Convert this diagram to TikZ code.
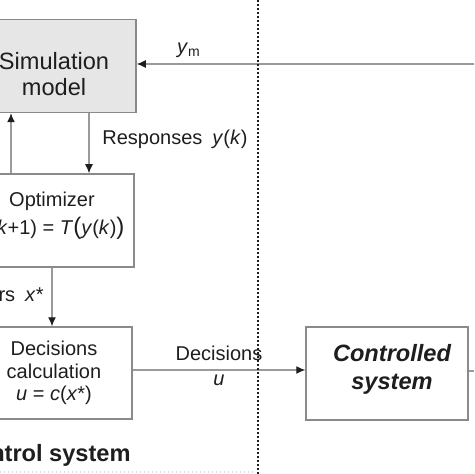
\documentclass[tikz,border=0pt]{standalone}
\usepackage{fontspec}
\setmainfont{Liberation Sans}
\usetikzlibrary{arrows.meta}
\definecolor{linegray}{HTML}{9A9A9A}
\definecolor{boxgray}{HTML}{8A8A8A}
\definecolor{simfill}{HTML}{E6E6E6}
\definecolor{ink}{HTML}{1E1E1E}
\begin{document}
\begin{tikzpicture}[x=0.5pt,y=-0.5pt,
    box/.style={draw=boxgray,line width=0.75pt,minimum height=46.5pt,inner sep=0pt},
    txt/.style={align=center,text=ink,inner sep=0pt},
    arr/.style={draw=linegray,line width=0.6pt,-{Latex[length=4.5pt,width=4pt,color=ink]}},
    lbl/.style={text=ink,inner sep=0pt}]
    \useasboundingbox (0,0) rectangle (474,474);
    \clip (0,0) rectangle (474,474);
    \node[box,fill=simfill,minimum width=82pt,label={[txt,yshift=-4pt,font=\fontsize{11.8}{13.3}\selectfont]center:Simulation\\model}] (sim) at (54,66) {};
    \node[box,minimum width=82pt,label={[txt,yshift=2.5pt,font=\fontsize{10}{14}\selectfont]center:Optimizer\\\textit{x}(\textit{k}+1) = \textit{T}{\large(}\textit{y}(\textit{k}){\large)}}] (opt) at (52,220.5) {};
    \node[box,minimum width=78pt,minimum height=46pt,label={[txt,font=\fontsize{10}{11.3}\selectfont]center:Decisions\\calculation\\\textit{u} = \textit{c}(\textit{x}*)}] (dec) at (54,373) {};
    \node[box,minimum width=81pt,label={[txt,xshift=2.5pt,yshift=2pt,font=\fontsize{11.8}{14}\selectfont\bfseries\itshape]center:Controlled\\system}] (ctl) at (387,373.5) {};
    \coordinate (ymin) at (474,64);
    \coordinate (resp) at (89,0);
    \coordinate (back) at (11,0);
    \coordinate (par) at (52,0);
    \coordinate (dcs) at (0,370);
    \coordinate (out) at (474,371);
    \draw[arr] (ymin) -- (ymin -| sim.east);
    \draw[arr] (resp |- sim.south) -- (resp |- opt.north);
    \draw[arr] (back |- opt.north) -- (back |- sim.south);
    \draw[arr] (par |- opt.south) -- (par |- dec.north);
    \draw[arr] (dcs -| dec.east) -- (dcs -| ctl.west);
    \draw[linegray,line width=0.6pt] (out -| ctl.east) -- (out);
    \node[lbl] (ym) at (189,50) {\textit{y}\textsubscript{m}};
    \node[lbl] (resptxt) at (175,139) {Responses\enspace\textit{y}(\textit{k})};
    \node[lbl,anchor=east] (partxt) at (44,295) {Parameters\enspace\textit{x}*};
    \node[lbl,align=center,font=\fontsize{10}{12.5}\selectfont] (dectxt) at (219,366) {Decisions\\\textit{u}};
    \node[lbl,anchor=east,font=\fontsize{11.8}{14}\selectfont\bfseries] (cs) at (131,455) {Control system};
    \draw[ink,line width=0.9pt,dash pattern=on 0.9pt off 1.1pt] (258,0) -- (258,474);
    \draw[black!15,line width=0.6pt,dash pattern=on 0.6pt off 1.4pt] (0,472) -- (255,472);
\end{tikzpicture}
\end{document}
